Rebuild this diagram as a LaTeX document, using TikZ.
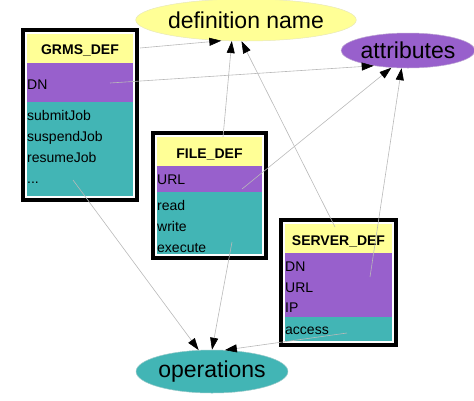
\documentclass[tikz,border=0pt]{standalone}
\usepackage{fontspec}
\setmainfont{Liberation Sans}
\usetikzlibrary{shapes.geometric,arrows.meta}
\definecolor{ylw}{RGB}{255,255,150}
\definecolor{prp}{RGB}{152,96,204}
\definecolor{tea}{RGB}{66,181,181}
\definecolor{edg}{RGB}{185,185,185}
\tikzset{
  frame/.style={draw=black,line width=4pt},
  sec/.style={draw=none,inner sep=0pt,outer sep=0pt,rectangle},
  lbl/.style={anchor=base west,inner sep=0pt,font=\fontsize{14}{16}\selectfont},
  hdr/.style={anchor=base,inner sep=0pt,font=\fontsize{14}{16}\selectfont\bfseries},
  ell/.style={ellipse,inner sep=0pt,draw=#1!70!gray!60,line width=0.5pt,font=\fontsize{23}{26}\selectfont},
  conn/.style={draw=edg,line width=0.6pt,-{Triangle[length=12pt,width=8pt,color=black]}}
}
\begin{document}
\begin{tikzpicture}[x=1pt,y=-1pt]
\useasboundingbox (0,0) rectangle (474,400);
% ellipses
\node[ell=ylw,fill=ylw,minimum width=182pt,minimum height=42pt] (defname) at (246,20) {definition name};
\node[ell=prp,fill=prp,minimum width=125pt,minimum height=35pt] (attr) at (408,50.5) {attributes};
\node[ell=tea,fill=tea,minimum width=132pt,minimum height=43pt] (ops) at (212,371.5) {operations};
% GRMS_DEF
\draw[frame] (23,30) rectangle (137,200);
\node[sec,fill=ylw,minimum width=106pt,minimum height=29pt] (gY) at (80,48.5) {};
\node[sec,fill=prp,minimum width=106pt,minimum height=39pt] (gP) at (80,82.5) {};
\node[sec,fill=tea,minimum width=106pt,minimum height=94pt] (gT) at (80,149) {};
\node[hdr] (gh) at (80,54) {GRMS\_DEF};
\node[lbl] (g1) at (27,89) {DN};
\node[lbl] (g2) at (27,120) {submitJob};
\node[lbl] (g3) at (27,141) {suspendJob};
\node[lbl] (g4) at (27,162) {resumeJob};
\node[lbl] (g5) at (27,183) {...};
% FILE_DEF
\draw[frame] (153,133) rectangle (266,258);
\node[sec,fill=ylw,minimum width=105pt,minimum height=29pt] (fY) at (209.5,151.5) {};
\node[sec,fill=prp,minimum width=105pt,minimum height=26pt] (fP) at (209.5,179) {};
\node[sec,fill=tea,minimum width=105pt,minimum height=62pt] (fT) at (209.5,223) {};
\node[hdr] (fh) at (209.5,158) {FILE\_DEF};
\node[lbl] (f1) at (157,184) {URL};
\node[lbl] (f2) at (157,210) {read};
\node[lbl] (f3) at (157,231) {write};
\node[lbl] (f4) at (157,252) {execute};
% SERVER_DEF
\draw[frame] (281,220) rectangle (396,345);
\node[sec,fill=ylw,minimum width=107pt,minimum height=29pt] (sY) at (338.5,238.5) {};
\node[sec,fill=prp,minimum width=107pt,minimum height=64pt] (sP) at (338.5,285) {};
\node[sec,fill=tea,minimum width=107pt,minimum height=24pt] (sT) at (338.5,329) {};
\node[hdr] (sh) at (338.5,245.5) {SERVER\_DEF};
\node[lbl] (s1) at (285,271) {DN};
\node[lbl] (s2) at (285,292) {URL};
\node[lbl] (s3) at (285,312) {IP};
\node[lbl] (s4) at (285,334) {access};
% ports
\coordinate (pgY) at (140,48);
\coordinate (pgP) at (110,83);
\coordinate (pgT) at (73,180);
\coordinate (pfY) at (223,137);
\coordinate (pfP) at (242,189);
\coordinate (pfT) at (232,242);
\coordinate (psY) at (335,227);
\coordinate (psP) at (370,277);
\coordinate (psT) at (347,333);
% connectors
\draw[conn] (pgY) -- (defname.220);
\draw[conn] (pfY) -- (defname.236);
\draw[conn] (psY) -- (defname.258);
\draw[conn] (pgP) -- (attr.204);
\draw[conn] (pfP) -- (attr.226);
\draw[conn] (psP) -- (attr.250);
\draw[conn] (pgT) -- (ops.122);
\draw[conn] (pfT) -- (ops.90);
\draw[conn] (psT) -- (ops.59);
\end{tikzpicture}
\end{document}
